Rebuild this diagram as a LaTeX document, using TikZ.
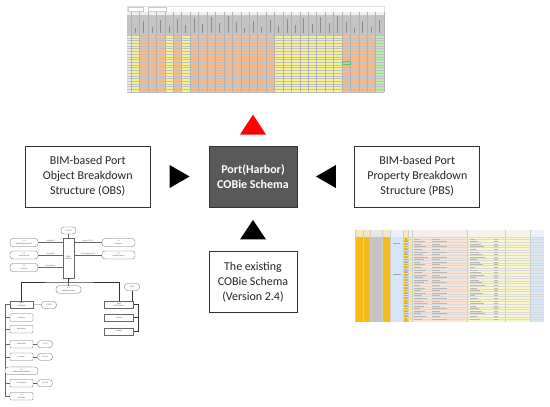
\documentclass[tikz,border=0pt]{standalone}
\usepackage{fontspec}
\setmainfont{Carlito}
\usepackage{tikz}
\usetikzlibrary{positioning, calc}
\definecolor{xlorange}{RGB}{246,187,140}
\definecolor{xlyellow}{RGB}{247,242,145}
\definecolor{xlgreen}{RGB}{188,232,178}
\definecolor{xlgray}{RGB}{196,196,196}
\definecolor{xlblue}{RGB}{214,230,247}
\definecolor{xlpink}{RGB}{250,226,212}
\definecolor{xlcream}{RGB}{250,246,204}
\definecolor{xlgold}{RGB}{245,188,25}
\definecolor{boxgray}{RGB}{89,89,89}
\tikzstyle{blk}=[draw=black!80, line width=0.8pt, fill=white, minimum width=125pt, minimum height=61pt, align=center, text=black!85, font=\fontsize{12}{15}\selectfont]
\tikzstyle{core}=[blk, fill=boxgray, minimum width=88pt, text=white, font=\fontsize{12}{15}\selectfont\bfseries]
\tikzstyle{tree}=[draw=black!60, line width=0.3pt, fill=white, inner sep=0.3pt, minimum width=23pt, minimum height=7.5pt, align=center, text=black!70, font=\fontsize{2}{2.3}\selectfont]
\tikzstyle{oval}=[tree, rounded corners=3pt]
\tikzstyle{card}=[oval, minimum width=15pt, minimum height=7pt]
\tikzstyle{wire}=[draw=black!60, line width=0.3pt]
\tikzstyle{bus}=[draw=black!80, line width=0.8pt]
\tikzstyle{tag}=[inner sep=0.4pt, text=black!70, font=\fontsize{2}{2.3}\selectfont]

\begin{document}
\begin{tikzpicture}[x=1pt,y=-1pt,node distance=58pt]
    \useasboundingbox (0,0) rectangle (550,407);

    \node [core] (cobie) at (253,176.5) {Port(Harbor)\\COBie Schema};
    \node [blk, left=of cobie] (obs) {BIM-based Port\\Object Breakdown\\Structure (OBS)};
    \node [blk, right=57pt of cobie] (pbs) {BIM-based Port\\Property Breakdown\\Structure (PBS)};
    \node [blk, minimum width=88pt, below=44pt of cobie] (cur) {The existing\\COBie Schema\\(Version 2.4)};

    \coordinate (tl) at ($(obs.east)!0.5!(cobie.west)$);
    \coordinate (tr) at ($(cobie.east)!0.5!(pbs.west)$);
    \coordinate (tb) at ($(cobie.south)!0.5!(cur.north)$);
    \coordinate (tt) at ($(cobie.north)+(0,-21)$);
    \fill (tl) ++(-10,-11.5) -- ++(20,11.5) -- ++(-20,11.5) -- cycle;
    \fill (tr) ++(10,-11.5) -- ++(-20,11.5) -- ++(20,11.5) -- cycle;
    \fill (tb) ++(-13,10) -- ++(13,-19.5) -- ++(13,19.5) -- cycle;
    \fill [red] (tt) ++(-13,10) -- ++(13,-20) -- ++(13,20) -- cycle;

    % sheet on top
    \draw [black!12, fill=white, line width=0.3pt] (127,6) rectangle (384,12);
    \draw [black!20, line width=0.2pt] (128,7) rectangle (143,11);
    \draw [black!20, line width=0.2pt] (148,7) rectangle (166,11);
    \fill [xlgray] (127,12) rectangle (384,35);
    \fill [black!6] (127,12) rectangle (384,15);
    \fill [black!8] (127,35) rectangle (131,92);
    \foreach \c [count=\i from 0] in {xlyellow,xlorange,xlorange,xlorange,xlyellow,xlorange,xlyellow,xlorange,xlorange,xlorange,xlorange,xlorange,xlorange,xlorange,xlorange,xlorange,xlorange,xlyellow,xlyellow,xlyellow,xlyellow,xlyellow,xlyellow,xlyellow,xlyellow,xlorange,xlorange,xlorange,xlorange,xlgreen}{
        \fill [\c] ({131+\i*8.433},35) rectangle ++(8.433,57);
        \pgfmathsetmacro{\h}{5+mod(\i*7,13)}
        \fill [black!45] ({131+\i*8.433+3.8},33) rectangle ++(0.8,-\h);
    }
    \foreach \r in {0,...,21}
        \draw [black!25, line width=0.2pt] (127,{35+\r*2.714}) -- (384,{35+\r*2.714});
    \foreach \i in {0,...,30}
        \draw [black!30, line width=0.2pt] ({131+\i*8.433},12) -- ({131+\i*8.433},92);
    \draw [green!60!black!60, line width=0.2pt] (342,61) rectangle (350,64);

    % sheet at bottom right
    \foreach \a/\b/\c in {355/363/xlgold,363/370/xlgold,370/382/xlgray,382/390/xlgold,390/403/xlblue,403/408/xlgold,408/412/xlyellow,412/467/xlpink,467/505/xlcream,505/530/xlcream,530/544/xlblue}{
        \fill [\c] (\a,230) rectangle (\b,322);
        \fill [\c!85!black!25] (\a,230) rectangle (\b,237);
        \draw [black!20, line width=0.2pt] (\a,230) -- (\a,322);
    }
    \foreach \r in {0,...,32}
        \draw [black!15, line width=0.2pt] (403,{237+\r*2.58}) -- (544,{237+\r*2.58});
    \foreach \r in {0,...,31}{
        \pgfmathsetmacro{\la}{6+mod(\r*5,9)}
        \pgfmathsetmacro{\lb}{8+mod(\r*7,14)}
        \pgfmathsetmacro{\lc}{5+mod(\r*3,11)}
        \fill [black!28] (414,{238.6+\r*2.58}) rectangle ++(\la,0.6);
        \fill [black!28] (432,{238.6+\r*2.58}) rectangle ++(\lb,0.6);
        \fill [black!28] (470,{238.6+\r*2.58}) rectangle ++(\lc,0.6);
        \fill [black!28] (494,{238.6+\r*2.58}) rectangle ++(4,0.6);
        \fill [black!35] (404.5,{238.6+\r*2.58}) rectangle ++(2.5,0.6);
    }
    \fill [black!35] (393,243) rectangle ++(7,0.6);
    \fill [black!35] (393,273.5) rectangle ++(8,0.6);

    % tree at bottom left
    \node [card] (tcard) at (68.5,230.5) {1,3(2,3)};
    \node [tree, minimum width=11pt, minimum height=40pt] (troot) at (68.5,258) {(ABS)\\entRoot};
    \node [oval, minimum width=28pt, minimum height=8pt] (tuid) at (24,242.5) {5.2\\entGlobalUniqueID};
    \node [oval, minimum width=28pt, minimum height=8pt] (tver) at (24,255) {5.6\\entVersionID};
    \node [oval, minimum width=28pt, minimum height=8pt] (tdat) at (24,267.5) {5.1\\entDate};
    \node [oval, minimum width=33pt, minimum height=8pt] (tnam) at (118.5,242.5) {5.1\\entName};
    \node [oval, minimum width=33pt, minimum height=8pt] (tdsc) at (118.5,255) {5.2\\entDescription};
    \draw [wire] (tcard) -- (troot);
    \draw [wire] (tuid) -- node [tag, above] {UniqueID} (tuid -| troot.west);
    \draw [wire] (tver) -- node [tag, above] {VersionID} (tver -| troot.west);
    \draw [wire] (tdat) -- node [tag, above] {VersionDate} (tdat -| troot.west);
    \draw [wire] (tnam) -- node [tag, above] {Name 5(1.1)} (tnam -| troot.east);
    \draw [wire] (tdsc) -- node [tag, above] {Description 5(1.2)} (tdsc -| troot.east);

    \coordinate (tbus) at (68.5,282);
    \node [oval, minimum width=25pt] (trel) at (68.5,289.5) {5.1\\entRelationship};
    \node [tree] (tobj) at (21.5,304.5) {(ABS)\\entObject};
    \node [tree, minimum width=29pt] (tcol) at (119,304.5) {(ABS)\\entCollection};
    \draw [bus] (troot) -- node [tag, right] {1} (tbus);
    \draw [wire] (tbus) -- (trel);
    \draw [bus] (tobj.north) |- (tbus) -| (tcol.north);

    \node [card] (tc1) at (49,305) {1,3(3,4)};
    \draw [wire] (tobj) -- (tc1);
    \foreach \n/\y/\t in {tact/317.5/entActor, tsub/329.2/entSubject, tavt/344.2/entActivity, tunt/356.8/entUnit, tres/370.8/{4.3\\entResourceDefinition}, tprp/383.2/entProperty, tval/396.3/{6.1\\entValue}}{
        \node [oval, rounded corners=1pt] (\n) at (21.5,\y) {\t};
        \draw [wire] (tobj.west) -- ++(-4.5,0) |- (\n.west);
    }
    \node [oval, minimum width=33pt, rounded corners=3pt] at (tres) {4.3\\entResourceDefinition};
    \node [card] (tc2) at (45,344.2) {1,1(1)};
    \node [card] (tc3) at (45,356.8) {1,3(3,4)};
    \node [card] (tc4) at (45,383.2) {1,3(3,4)};
    \draw [wire] (tavt) -- (tc2);
    \draw [wire] (tunt) -- (tc3);
    \draw [wire] (tprp) -- (tc4);

    \node [card] (tc5) at (132,287) {1,3(3)};
    \node [tree, minimum width=29pt] (tnst) at (119,317.5) {entNest};
    \node [tree, minimum width=29pt] (tbag) at (119,331.5) {entBag};
    \draw [bus] (tc5) -- (tc5 |- tcol.north);
    \draw [bus] (tcol.east) -- ++(5,0) |- (tbag.east);
    \draw [bus] (tnst.east) -- ++(5,0);

\end{tikzpicture}
\end{document}
